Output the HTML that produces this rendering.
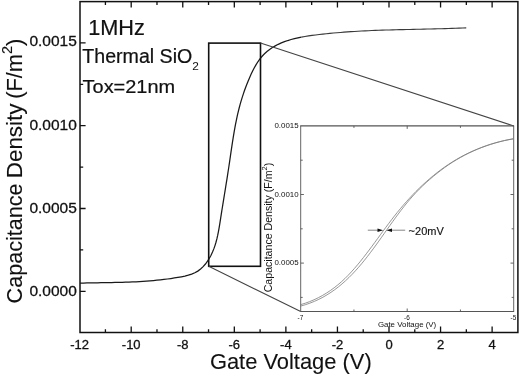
<!DOCTYPE html>
<html><head><meta charset="utf-8"><title>C-V plot</title>
<style>
html,body{margin:0;padding:0;background:#fff;}
svg{display:block;filter:blur(0.35px);}
text{font-family:"Liberation Sans",Arial,sans-serif;fill:#111;}
.b{stroke:#111;stroke-width:0.22;}
.m{stroke:#111;stroke-width:0.1;}
.k{stroke:#111;stroke-width:0.3;}
</style></head><body>
<svg width="520" height="375" viewBox="0 0 520 375">
<rect x="0" y="0" width="520" height="375" fill="#fff"/>
<rect x="80" y="1.6" width="437.9" height="330.9" fill="none" stroke="#111" stroke-width="1.5"/>
<path d="M105.42,332.5 v-3.3 M105.42,1.6 v3.3 M131.20,332.5 v-6 M131.20,1.6 v6 M156.98,332.5 v-3.3 M156.98,1.6 v3.3 M182.76,332.5 v-6 M182.76,1.6 v6 M208.54,332.5 v-3.3 M208.54,1.6 v3.3 M234.32,332.5 v-6 M234.32,1.6 v6 M260.10,332.5 v-3.3 M260.10,1.6 v3.3 M285.88,332.5 v-6 M285.88,1.6 v6 M311.66,332.5 v-3.3 M311.66,1.6 v3.3 M337.44,332.5 v-6 M337.44,1.6 v6 M363.22,332.5 v-3.3 M363.22,1.6 v3.3 M389.00,332.5 v-6 M389.00,1.6 v6 M414.78,332.5 v-3.3 M414.78,1.6 v3.3 M440.56,332.5 v-6 M440.56,1.6 v6 M466.34,332.5 v-3.3 M466.34,1.6 v3.3 M492.12,332.5 v-6 M492.12,1.6 v6 M80,291.30 h5.6 M80,249.90 h3.2 M80,208.50 h5.6 M80,167.10 h3.2 M80,125.70 h5.6 M80,84.30 h3.2 M80,42.90 h5.6" stroke="#111" stroke-width="1.3" fill="none"/>
<text x="79.64" y="349" font-size="13" text-anchor="middle" class="k">-12</text>
<text x="131.20" y="349" font-size="13" text-anchor="middle" class="k">-10</text>
<text x="182.76" y="349" font-size="13" text-anchor="middle" class="k">-8</text>
<text x="234.32" y="349" font-size="13" text-anchor="middle" class="k">-6</text>
<text x="285.88" y="349" font-size="13" text-anchor="middle" class="k">-4</text>
<text x="337.44" y="349" font-size="13" text-anchor="middle" class="k">-2</text>
<text x="389.00" y="349" font-size="13" text-anchor="middle" class="k">0</text>
<text x="440.56" y="349" font-size="13" text-anchor="middle" class="k">2</text>
<text x="492.12" y="349" font-size="13" text-anchor="middle" class="k">4</text>
<text x="76.8" y="295.90" font-size="15.5" text-anchor="end" class="k">0.0000</text>
<text x="76.8" y="212.75" font-size="15.5" text-anchor="end" class="k">0.0005</text>
<text x="76.8" y="129.60" font-size="15.5" text-anchor="end" class="k">0.0010</text>
<text x="76.8" y="46.40" font-size="15.5" text-anchor="end" class="k">0.0015</text>
<text x="209.9" y="368.7" font-size="21.9" id="xt" class="m">Gate Voltage (V)</text>
<text transform="translate(22.4,303.4) rotate(-90)" font-size="21.75" textLength="119.9" lengthAdjust="spacingAndGlyphs" class="m" id="yt">Capacitance</text>
<text transform="translate(22.4,178.2) rotate(-90)" font-size="21.75" textLength="74.6" lengthAdjust="spacingAndGlyphs" class="m" id="yt2">Density</text>
<text transform="translate(22.4,98.7) rotate(-90)" font-size="21.75" class="m" id="yt3">(F/m<tspan font-size="14.5" dy="-10.3">2</tspan><tspan dy="10.3">)</tspan></text>
<text x="88.2" y="35.4" font-size="21.3" textLength="56.6" lengthAdjust="spacingAndGlyphs" id="t1" class="b">1MHz</text>
<text x="82.3" y="63.3" font-size="19.4" textLength="110" lengthAdjust="spacingAndGlyphs" id="t2" class="b">Thermal SiO</text>
<text x="192.2" y="70" font-size="10.4" textLength="6.6" lengthAdjust="spacingAndGlyphs" id="t2s">2</text>
<text x="82.6" y="93.2" font-size="19.2" textLength="92.5" lengthAdjust="spacingAndGlyphs" id="t3" class="b">Tox=21nm</text>
<path d="M79.98,283.13 L83.50,283.05 L87.03,282.97 L90.54,282.91 L94.06,282.85 L97.57,282.79 L101.07,282.74 L104.58,282.68 L108.08,282.62 L111.57,282.56 L115.07,282.48 L118.56,282.40 L122.05,282.31 L125.54,282.20 L129.02,282.07 L132.51,281.93 L136.00,281.76 L139.48,281.58 L142.97,281.37 L146.45,281.13 L149.94,280.86 L153.43,280.56 L156.91,280.22 L160.40,279.86 L163.90,279.45 L167.39,279.00 L170.89,278.51 L174.39,277.98 L177.89,277.39 L181.39,276.76 L184.88,276.06 L188.32,275.20 L191.65,274.14 L194.83,272.80 L197.82,271.12 L200.59,269.05 L203.12,266.66 L205.43,264.02 L207.52,261.20 L209.38,258.27 L211.04,255.23 L212.51,252.11 L213.82,248.90 L214.97,245.62 L215.98,242.27 L216.88,238.88 L217.67,235.44 L218.38,231.96 L219.02,228.47 L219.61,224.96 L220.17,221.44 L220.71,217.93 L221.25,214.43 L221.80,210.96 L222.35,207.49 L222.90,204.04 L223.46,200.60 L224.02,197.17 L224.57,193.74 L225.13,190.32 L225.69,186.89 L226.24,183.47 L226.79,180.05 L227.33,176.62 L227.86,173.18 L228.39,169.73 L228.92,166.27 L229.43,162.80 L229.94,159.32 L230.44,155.83 L230.95,152.34 L231.47,148.84 L231.99,145.34 L232.53,141.84 L233.08,138.35 L233.65,134.86 L234.24,131.39 L234.86,127.92 L235.50,124.46 L236.18,121.03 L236.90,117.61 L237.66,114.21 L238.45,110.83 L239.30,107.48 L240.19,104.15 L241.14,100.86 L242.14,97.58 L243.20,94.33 L244.32,91.07 L245.51,87.81 L246.76,84.53 L248.08,81.23 L249.47,77.90 L250.94,74.55 L252.51,71.24 L254.18,67.98 L255.96,64.82 L257.88,61.79 L259.93,58.92 L262.13,56.25 L264.48,53.79 L266.98,51.53 L269.62,49.47 L272.38,47.58 L275.25,45.87 L278.24,44.32 L281.32,42.92 L284.50,41.66 L287.75,40.53 L291.08,39.52 L294.47,38.62 L297.92,37.82 L301.41,37.10" stroke="#1a1a1a" stroke-width="1.25" fill="none"/>
<path d="M301.41,37.10 L304.93,36.47 L308.48,35.90 L312.05,35.39 L315.63,34.93 L319.21,34.50 L322.78,34.10 L326.34,33.72 L329.89,33.37 L333.43,33.03 L336.96,32.72 L340.48,32.43 L343.99,32.16 L347.50,31.90 L351.00,31.66 L354.49,31.44 L357.97,31.24 L361.46,31.04 L364.93,30.87 L368.41,30.70 L371.87,30.55 L375.34,30.41 L378.80,30.28 L382.26,30.16 L385.73,30.04 L389.18,29.94 L392.64,29.84 L396.10,29.75 L399.57,29.66 L403.03,29.58 L406.49,29.50 L409.96,29.43 L413.43,29.35 L416.90,29.28 L420.38,29.21 L423.87,29.13 L427.35,29.06 L430.85,28.98 L434.35,28.90 L437.86,28.81 L441.38,28.72 L444.90,28.62 L448.43,28.52 L451.98,28.41 L455.53,28.29 L459.09,28.16 L462.67,28.02 L466.25,27.87" stroke="#3a3a3a" stroke-width="1.1" fill="none"/>
<rect x="208.7" y="43.1" width="51.8" height="223.2" fill="none" stroke="#111" stroke-width="1.6"/>
<path d="M260.5,43.1 L513.7,125.9 M208.7,266.3 L300.7,311.5" stroke="#444" stroke-width="1.1" fill="none"/>
<path d="M300.2,125.9 H514.1 M300.3,311.5 H514.1" fill="none" stroke="#555" stroke-width="1.2"/>
<path d="M300.7,125.9 V311.5 M513.7,125.9 V311.5" fill="none" stroke="#555" stroke-width="0.9"/>
<path d="M353.95,311.5 v-2 M353.95,125.9 v2 M407.20,311.5 v-3 M407.20,125.9 v3 M460.45,311.5 v-2 M460.45,125.9 v2 M300.7,297.40 h2 M513.7,297.40 h-2 M300.7,263.10 h3.2 M513.7,263.10 h-3.2 M300.7,228.80 h2 M513.7,228.80 h-2 M300.7,194.50 h3.2 M513.7,194.50 h-3.2 M300.7,160.20 h2 M513.7,160.20 h-2" stroke="#555" stroke-width="0.9" fill="none"/>
<text x="298.6" y="265.10" font-size="7.9" text-anchor="end" fill="#222">0.0005</text>
<text x="298.6" y="196.50" font-size="7.9" text-anchor="end" fill="#222">0.0010</text>
<text x="298.6" y="127.90" font-size="7.9" text-anchor="end" fill="#222">0.0015</text>
<text x="300.40" y="319.6" font-size="6.4" text-anchor="middle" fill="#222">-7</text>
<text x="406.90" y="319.6" font-size="6.4" text-anchor="middle" fill="#222">-6</text>
<text x="513.40" y="319.6" font-size="6.4" text-anchor="middle" fill="#222">-5</text>
<text x="377.9" y="326.8" font-size="7.9" fill="#222" id="ixt">Gate Voltage (V)</text>
<text transform="translate(272.0,292.3) rotate(-90)" font-size="10.6" fill="#2a2a2a" id="iyt">Capacitance Density (F/m<tspan font-size="7.6" dy="-4.6">2</tspan><tspan dy="4.6">)</tspan></text>
<path d="M300.61,304.65 L305.19,303.24 L309.66,301.61 L314.02,299.77 L318.28,297.74 L322.42,295.51 L326.45,293.10 L330.36,290.52 L334.16,287.78 L337.83,284.87 L341.39,281.82 L344.82,278.64 L348.13,275.32 L351.35,271.90 L354.47,268.40 L357.52,264.82 L360.50,261.19 L363.43,257.51 L366.31,253.79 L369.15,250.04 L371.96,246.27 L374.75,242.47 L377.53,238.67 L380.31,234.87 L383.08,231.07 L385.87,227.28 L388.68,223.51 L391.52,219.77 L394.40,216.05 L397.32,212.38 L400.30,208.75 L403.32,205.17 L406.41,201.64 L409.55,198.17 L412.75,194.75 L416.02,191.39 L419.36,188.09 L422.76,184.86 L426.24,181.70 L429.78,178.61 L433.38,175.59 L437.06,172.65 L440.80,169.80 L444.61,167.05 L448.49,164.40 L452.44,161.87 L456.46,159.44 L460.55,157.12 L464.70,154.92 L468.90,152.84 L473.17,150.87 L477.49,149.03 L481.86,147.30 L486.27,145.69 L490.74,144.21 L495.24,142.86 L499.78,141.63 L504.36,140.53 L508.98,139.56 L513.62,138.72" stroke="#7c7c7c" stroke-width="0.8" fill="none"/>
<path d="M300.40,306.13 L305.25,304.75 L309.92,303.15 L314.43,301.35 L318.78,299.35 L322.99,297.18 L327.06,294.82 L330.99,292.31 L334.80,289.63 L338.49,286.82 L342.07,283.86 L345.54,280.78 L348.91,277.57 L352.20,274.26 L355.40,270.85 L358.52,267.35 L361.57,263.77 L364.56,260.12 L367.50,256.40 L370.39,252.63 L373.23,248.82 L376.05,244.97 L378.83,241.10 L381.60,237.21 L384.35,233.32 L387.10,229.43 L389.85,225.55 L392.61,221.70 L395.38,217.87 L398.18,214.09 L401.01,210.35 L403.88,206.67 L406.80,203.04 L409.79,199.47 L412.86,195.96 L416.02,192.52 L419.28,189.16 L422.65,185.86 L426.12,182.64 L429.67,179.49 L433.29,176.40 L436.97,173.39 L440.71,170.47 L444.52,167.64 L448.40,164.92 L452.35,162.31 L456.37,159.83 L460.45,157.47 L464.59,155.23 L468.79,153.11 L473.05,151.11 L477.36,149.24 L481.73,147.49 L486.15,145.86 L490.62,144.37 L495.14,143.00 L499.70,141.75 L504.30,140.64 L508.95,139.66 L513.63,138.81" stroke="#7c7c7c" stroke-width="0.8" fill="none"/>
<path d="M367.8,230.2 H378 M392,230.2 H405.2" stroke="#666" stroke-width="0.8" fill="none"/>
<path d="M383.2,230.2 L377.5,228.5 L377.5,231.9 Z M386.3,230.2 L392,228.5 L392,231.9 Z" fill="#111"/>
<text x="408.6" y="235" font-size="11" fill="#1a1a1a" stroke="#1a1a1a" stroke-width="0.15" id="mv">~20mV</text>
</svg>
</body></html>
